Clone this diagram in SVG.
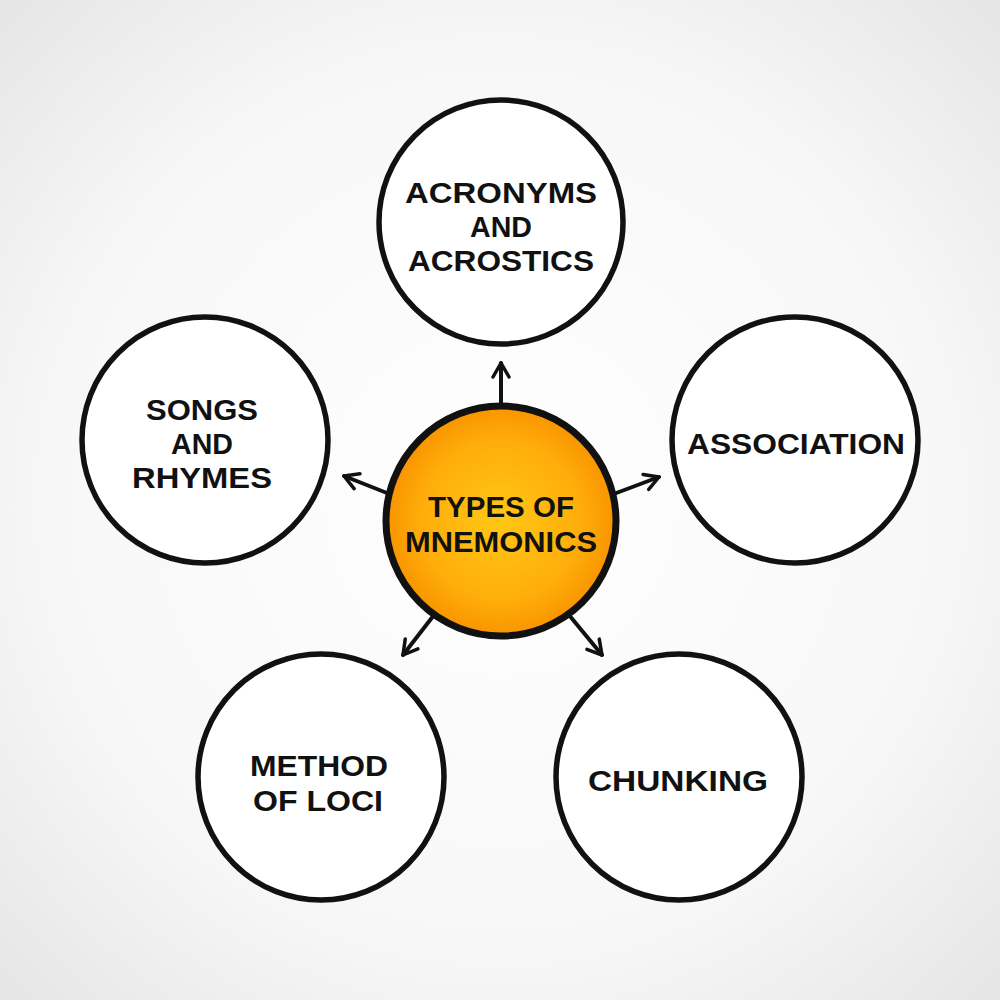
<svg xmlns="http://www.w3.org/2000/svg" width="1000" height="1000" viewBox="0 0 1000 1000">
<defs>
<radialGradient id="bg" cx="50%" cy="50%" r="75%">
<stop offset="0" stop-color="#ffffff"/>
<stop offset="0.6" stop-color="#f7f7f7"/>
<stop offset="1" stop-color="#e2e2e2"/>
</radialGradient>
<radialGradient id="orange" cx="50%" cy="50%" r="50%">
<stop offset="0" stop-color="#ffc716"/>
<stop offset="0.7" stop-color="#ffad0a"/>
<stop offset="1" stop-color="#f89400"/>
</radialGradient>
<marker id="arr" viewBox="0 0 20 20" refX="17" refY="10" markerWidth="20" markerHeight="20" markerUnits="userSpaceOnUse" orient="auto">
<path d="M3,2 L17,10 L3,18" fill="none" stroke="#111" stroke-width="3.5" stroke-linecap="round" stroke-linejoin="round"/>
</marker>
</defs>
<style>
.node{fill:#fff;stroke:#111;stroke-width:5.5}
.hub{fill:url(#orange);stroke:#111;stroke-width:7}
.lbl{font-family:"Liberation Sans","Arial",sans-serif;font-weight:bold;font-size:29px;fill:#111;text-anchor:middle}
.conn{stroke:#111;stroke-width:4;fill:none;stroke-linecap:round;marker-end:url(#arr)}
</style>
<rect width="1000" height="1000" fill="url(#bg)"/>
<g id="connectors">
<line class="conn" x1="501" y1="408" x2="501" y2="363"/>
<line class="conn" x1="392" y1="495" x2="344" y2="476"/>
<line class="conn" x1="611" y1="495" x2="659" y2="477"/>
<line class="conn" x1="434" y1="615" x2="403" y2="655"/>
<line class="conn" x1="569" y1="615" x2="602" y2="655"/>
</g>
<g id="hub">
<circle class="hub" cx="501" cy="521" r="115"/>
<text class="lbl" x="501" y="517" textLength="146" lengthAdjust="spacingAndGlyphs">TYPES OF</text>
<text class="lbl" x="501" y="552" textLength="192" lengthAdjust="spacingAndGlyphs">MNEMONICS</text>
</g>
<g id="acronyms">
<circle class="node" cx="501" cy="222" r="122"/>
<text class="lbl" x="501" y="203" textLength="192" lengthAdjust="spacingAndGlyphs">ACRONYMS</text>
<text class="lbl" x="501" y="237" textLength="62" lengthAdjust="spacingAndGlyphs">AND</text>
<text class="lbl" x="501" y="271" textLength="186" lengthAdjust="spacingAndGlyphs">ACROSTICS</text>
</g>
<g id="songs">
<circle class="node" cx="205" cy="440" r="123"/>
<text class="lbl" x="202" y="420" textLength="112" lengthAdjust="spacingAndGlyphs">SONGS</text>
<text class="lbl" x="202" y="454" textLength="62" lengthAdjust="spacingAndGlyphs">AND</text>
<text class="lbl" x="202" y="488" textLength="140" lengthAdjust="spacingAndGlyphs">RHYMES</text>
</g>
<g id="association">
<circle class="node" cx="795" cy="440" r="123"/>
<text class="lbl" x="796" y="454" textLength="218" lengthAdjust="spacingAndGlyphs">ASSOCIATION</text>
</g>
<g id="loci">
<circle class="node" cx="321" cy="777" r="123"/>
<text class="lbl" x="319" y="776" textLength="138" lengthAdjust="spacingAndGlyphs">METHOD</text>
<text class="lbl" x="318" y="811" textLength="130" lengthAdjust="spacingAndGlyphs">OF LOCI</text>
</g>
<g id="chunking">
<circle class="node" cx="679" cy="777" r="123"/>
<text class="lbl" x="678" y="791" textLength="180" lengthAdjust="spacingAndGlyphs">CHUNKING</text>
</g>
</svg>
